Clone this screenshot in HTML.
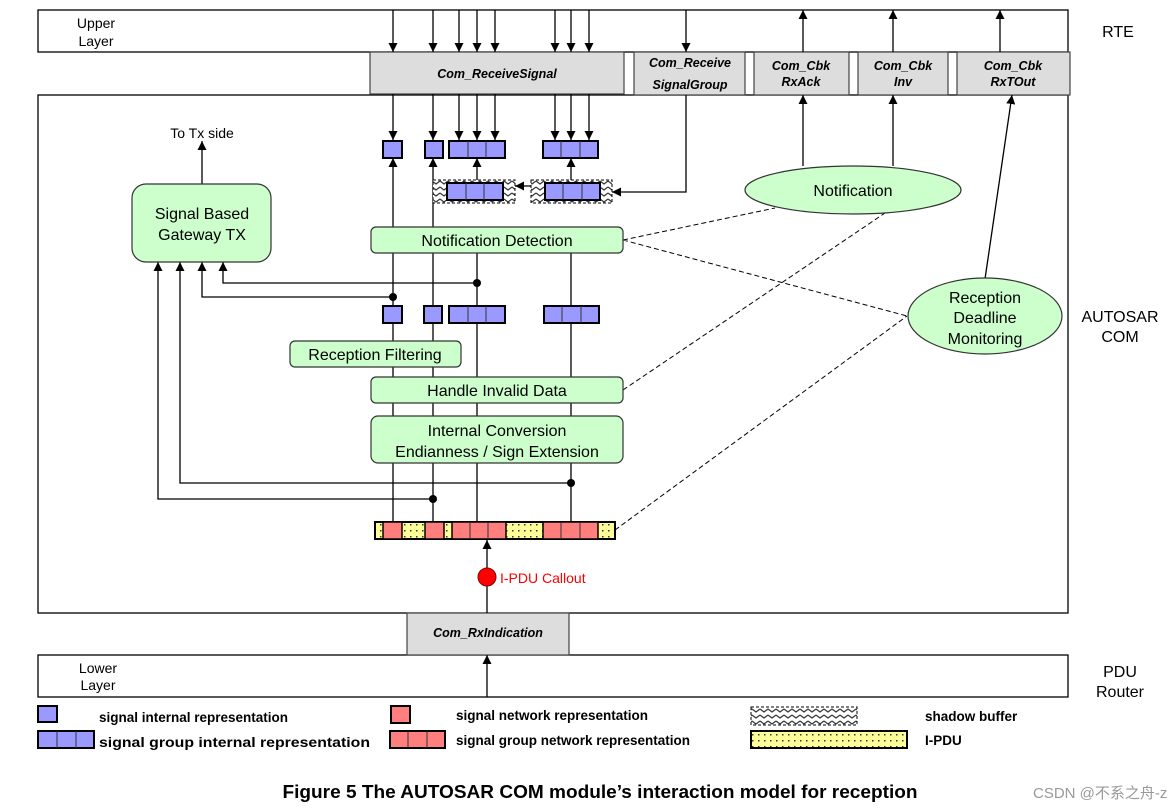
<!DOCTYPE html>
<html><head><meta charset="utf-8"><style>
html,body{margin:0;padding:0;background:#fff;}
svg{display:block;font-family:"Liberation Sans",Arial,sans-serif;}
</style></head><body>
<svg width="1173" height="811" viewBox="0 0 1173 811" xmlns="http://www.w3.org/2000/svg">
<defs>
<marker id="a" viewBox="0 0 10 10" refX="10" refY="5" markerWidth="9" markerHeight="9" markerUnits="userSpaceOnUse" orient="auto"><path d="M0,0 L10,5 L0,10z" fill="#000"/></marker>
<pattern id="zz" width="8" height="6" patternUnits="userSpaceOnUse"><rect width="8" height="6" fill="#fff"/><path d="M0,1 L4,4 L8,1" fill="none" stroke="#333" stroke-width="1.2"/></pattern>
<pattern id="dt" width="6" height="6" patternUnits="userSpaceOnUse"><rect width="6" height="6" fill="#ffff99"/><rect x="2" y="2" width="1.5" height="1.5" fill="#333"/></pattern>
</defs>
<g stroke="#000" stroke-width="1.3" fill="none">
<rect x="38" y="10" width="1030" height="42" fill="#fff"/>
<rect x="38" y="95" width="1030" height="518" fill="#fff"/>
<rect x="38" y="655" width="1030" height="42" fill="#fff"/>
</g>
<g stroke="#444" stroke-width="1.2" fill="#ddd">
<rect x="370" y="52" width="254" height="42"/>
<rect x="634" y="52" width="111" height="43"/>
<rect x="754" y="52" width="95" height="43"/>
<rect x="858" y="52" width="90" height="43"/>
<rect x="957" y="52" width="113" height="43"/>
<rect x="407" y="613" width="162" height="42"/>
</g>
<g font-style="italic" font-weight="bold" font-size="12.5" text-anchor="middle" fill="#000">
<text x="497" y="78">Com_ReceiveSignal</text>
<text x="690" y="67">Com_Receive</text><text x="690" y="89">SignalGroup</text>
<text x="801" y="70">Com_Cbk</text><text x="801" y="86">RxAck</text>
<text x="903" y="70">Com_Cbk</text><text x="903" y="86">Inv</text>
<text x="1013" y="70">Com_Cbk</text><text x="1013" y="86">RxTOut</text>
<text x="488" y="637">Com_RxIndication</text>
</g>
<g font-size="14" text-anchor="middle" fill="#000">
<text x="96" y="28">Upper</text><text x="96" y="46">Layer</text>
<text x="98" y="673">Lower</text><text x="98" y="690">Layer</text>
<text x="202" y="138">To Tx side</text>
</g>
<g font-size="16" text-anchor="middle" fill="#000">
<text x="1118" y="37">RTE</text>
<text x="1120" y="322">AUTOSAR</text><text x="1120" y="342">COM</text>
<text x="1120" y="677">PDU</text><text x="1120" y="697">Router</text>
</g>
<g stroke="#000" stroke-width="1.3" fill="none" marker-end="url(#a)">
<path d="M393,10V52"/><path d="M433,10V52"/><path d="M459,10V52"/><path d="M477,10V52"/><path d="M495,10V52"/><path d="M555,10V52"/><path d="M571,10V52"/><path d="M589,10V52"/><path d="M686,10V52"/>
<path d="M803,52V10"/><path d="M893,52V10"/><path d="M1000,52V10"/>
<path d="M393,94V140"/><path d="M433,94V140"/><path d="M459,94V140"/><path d="M477,94V140"/><path d="M495,94V140"/><path d="M555,94V140"/><path d="M571,94V140"/><path d="M589,94V140"/>
<path d="M686,95V192H612"/>
<path d="M531,186H515"/>
<path d="M477,180V158"/><path d="M571,180V158"/>
<path d="M393,228V158"/><path d="M433,228V158"/>
<path d="M803,166V95"/><path d="M893,166V95"/><path d="M985,279L1012,95"/>
<path d="M202,184V141"/>
<path d="M477,283H223V262"/><path d="M393,297H202V262"/>
<path d="M571,483H180V262"/><path d="M433,499H158V262"/>
<path d="M487,613V540"/><path d="M487,697V655"/>
</g>
<g stroke="#000" stroke-width="1.3">
<path d="M393,253V522M433,253V522M477,253V306M477,323V522M571,253V522"/>
</g>
<g fill="#000"><circle cx="393" cy="297" r="4"/><circle cx="477" cy="283" r="4"/><circle cx="433" cy="499" r="4"/><circle cx="571" cy="483" r="4"/></g>
<g stroke="#000" stroke-width="1" stroke-dasharray="5,3" fill="none">
<path d="M623,240L775,208M623,240L907,316M623,390L885,213M615,530L907,316"/>
</g>
<g stroke="#333" stroke-width="1.2" fill="#ccffcc">
<rect x="132" y="184" width="139" height="78" rx="14"/>
<rect x="371" y="227" width="252" height="26" rx="5"/>
<rect x="290" y="341" width="171" height="26" rx="5"/>
<rect x="371" y="377" width="252" height="26" rx="5"/>
<rect x="371" y="416" width="252" height="47" rx="7"/>
<ellipse cx="853" cy="190" rx="108" ry="24"/>
<ellipse cx="985" cy="316" rx="77" ry="38"/>
</g>
<g font-size="16" text-anchor="middle" fill="#000">
<text x="202" y="219">Signal Based</text><text x="202" y="240">Gateway TX</text>
<text x="497" y="246">Notification Detection</text>
<text x="375" y="360">Reception Filtering</text>
<text x="497" y="396">Handle Invalid Data</text>
<text x="497" y="436">Internal Conversion</text>
<text x="497" y="457">Endianness / Sign Extension</text>
<text x="853" y="196">Notification</text>
<text x="985" y="303">Reception</text><text x="985" y="323">Deadline</text><text x="985" y="344">Monitoring</text>
</g>
<g stroke="#000" stroke-width="2" fill="#9999ff">
<rect x="383" y="141" width="19" height="17"/><rect x="425" y="141" width="18" height="17"/>
<rect x="449" y="141" width="56" height="17"/><rect x="543" y="141" width="55" height="17"/>
<rect x="383" y="306" width="19" height="17"/><rect x="424" y="306" width="18" height="17"/>
<rect x="449" y="306" width="56" height="17"/><rect x="544" y="306" width="55" height="17"/>
</g>
<g stroke="#000" stroke-width="1" stroke-dasharray="3,2" fill="url(#zz)">
<rect x="433" y="180" width="82" height="23"/><rect x="531" y="180" width="81" height="23"/>
</g>
<g stroke="#000" stroke-width="2" fill="#9999ff">
<rect x="447" y="183" width="56" height="17"/><rect x="545" y="183" width="55" height="17"/>
</g>
<g stroke="#333" stroke-width="1">
<path d="M468,141v17M486,141v17M561,141v17M580,141v17M468,306v17M486,306v17M562,306v17M581,306v17M466,183v17M484,183v17M563,183v17M582,183v17"/>
</g>
<rect x="375" y="522" width="240" height="17" fill="url(#dt)" stroke="#000" stroke-width="2"/>
<g fill="#ff7f7f" stroke="#000" stroke-width="1.5">
<rect x="383" y="522" width="19" height="17"/><rect x="425" y="522" width="19" height="17"/>
<rect x="452" y="522" width="54" height="17"/><rect x="543" y="522" width="55" height="17"/>
</g>
<path d="M470,522v17M488,522v17M561,522v17M580,522v17" stroke="#333" stroke-width="1"/>
<circle cx="487" cy="577" r="9" fill="#ff0000" stroke="#800" stroke-width="1"/>
<text x="500" y="583" font-size="14" fill="#ff0000">I-PDU Callout</text>
<g stroke="#000" stroke-width="2">
<rect x="38" y="706" width="19" height="16" fill="#9999ff"/>
<rect x="38" y="731" width="56" height="17" fill="#9999ff"/>
<rect x="391" y="706" width="19" height="17" fill="#ff7f7f"/>
<rect x="390" y="731" width="55" height="17" fill="#ff7f7f"/>
<rect x="751" y="707" width="106" height="18" fill="url(#zz)" stroke-width="1" stroke-dasharray="3,2"/>
<rect x="751" y="731" width="156" height="17" fill="url(#dt)"/>
</g>
<path d="M57,731v17M76,731v17M408,731v17M427,731v17" stroke="#333" stroke-width="1"/>
<g font-size="13.5" font-weight="bold" fill="#000">
<text x="99" y="722">signal internal representation</text>
<text x="99" y="747" textLength="271" lengthAdjust="spacingAndGlyphs">signal group internal representation</text>
<text x="456" y="720">signal network representation</text>
<text x="456" y="745">signal group network representation</text>
<text x="925" y="721">shadow buffer</text>
<text x="925" y="745">I-PDU</text>
</g>
<text x="600" y="798" font-size="18" font-weight="bold" text-anchor="middle" fill="#000" textLength="635" lengthAdjust="spacingAndGlyphs">Figure 5 The AUTOSAR COM module’s interaction model for reception</text>
<text x="1033" y="798" font-size="15" fill="#999" font-family="'Liberation Sans','Noto Sans CJK SC',sans-serif">CSDN @不系之舟-z</text>
</svg>
</body></html>
